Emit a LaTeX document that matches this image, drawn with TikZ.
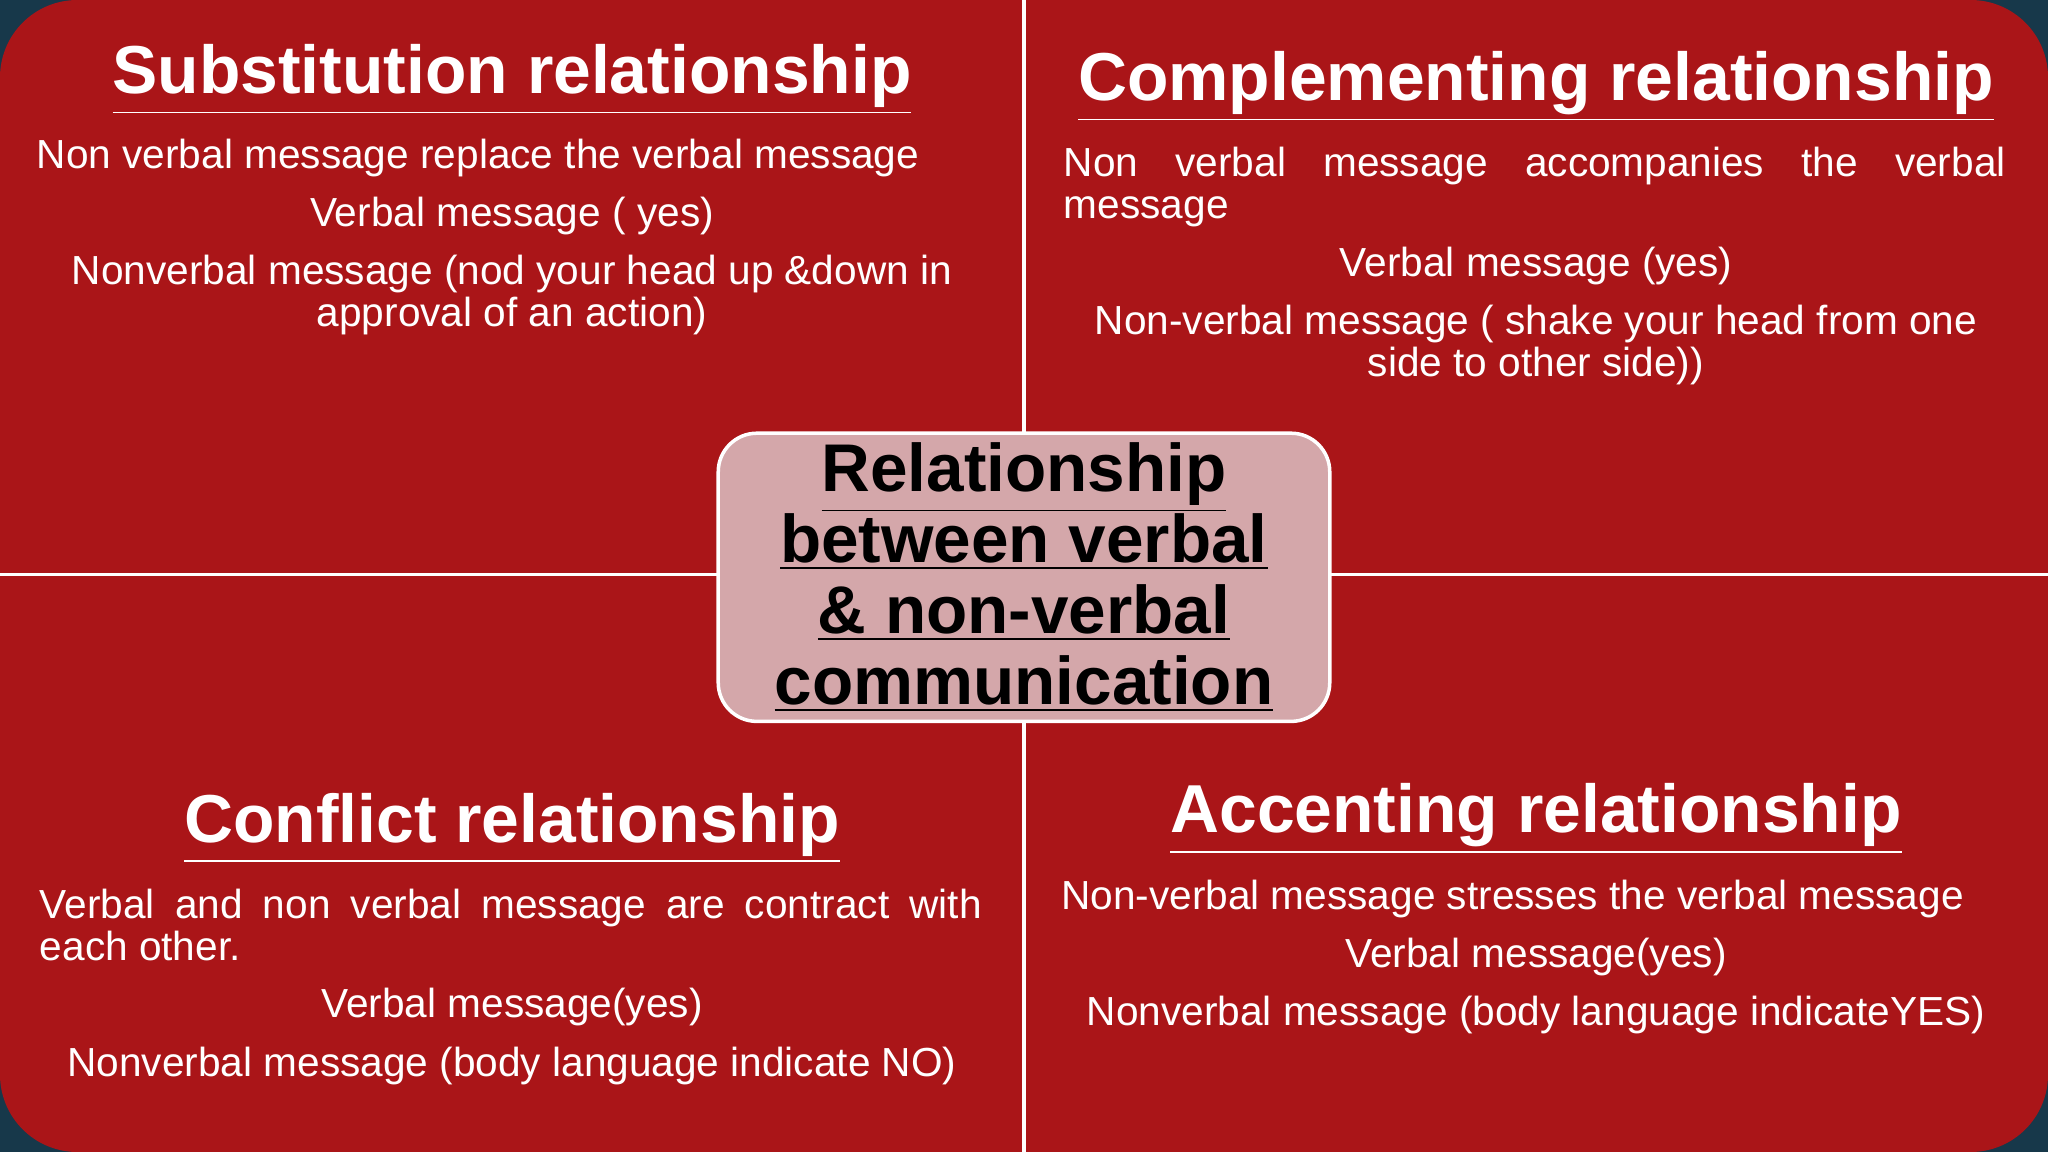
\documentclass[tikz,border=0pt]{standalone}
\usepackage{fontspec}
\setmainfont{Liberation Sans}
\hyphenpenalty=10000
\exhyphenpenalty=10000
\newcommand{\myul}[1]{\underline{#1}}
\tikzset{x=0.0130612cm,y=-0.0130612cm,
 ttl/.style={text=white,font=\bfseries\fontsize{19.3}{22}\selectfont,inner sep=0pt},
 body/.style={text=white,font=\fontsize{11.55}{11.9}\selectfont,align=center,inner sep=0pt},
 jbody/.style={text=white,font=\fontsize{11.55}{11.9}\selectfont,align=justify,text width=268pt,inner sep=0pt}}
\definecolor{bg}{HTML}{17384A}
\definecolor{panel}{HTML}{AA1518}
\definecolor{cbox}{HTML}{D4A7AA}
\begin{document}
\begin{tikzpicture}
\fill[bg] (0,0) rectangle (1568,882);
\useasboundingbox (0,0) rectangle (1568,882);
\fill[panel,rounded corners=22pt] (0,0) rectangle (1568,882);
\draw[white,line width=1pt] (784,0) -- (784,882) (0,440) -- (1568,440);
\node[draw=white,line width=1pt,fill=cbox,rounded corners=11pt,minimum width=174pt,minimum height=82pt,align=center,inner sep=0pt,
 font=\bfseries\fontsize{19.2}{20.2}\selectfont] (c) at (784,442)
 {\myul{Relationship}\\\myul{between verbal}\\\myul{\& non-verbal}\\\myul{communication}};
% top-left
\node[ttl] (t1) at (392,61) {\myul{Substitution relationship}};
\node[body,anchor=north] (b1a) at (366,106) {Non verbal message replace the verbal message};
\node[body,anchor=north] (b1b) at (392,150) {Verbal message ( yes)};
\node[body,anchor=north] (b1c) at (392,195) {Nonverbal message (nod your head up \&down in\\approval of an action)};
% top-right
\node[ttl] (t2) at (1176,66) {\myul{Complementing relationship}};
\node[jbody,anchor=north west] (b2a) at (814,112) {Non verbal message accompanies the verbal message};
\node[body,anchor=north] (b2b) at (1176,189) {Verbal message (yes)};
\node[body,anchor=north] (b2c) at (1176,233) {Non-verbal message ( shake your head from one\\side to other side))};
% bottom-left
\node[ttl] (t3) at (392,634) {\myul{Conflict relationship}};
\node[jbody,anchor=north west] (b3a) at (30,680) {Verbal and non verbal message are contract with each other.};
\node[body,anchor=north] (b3b) at (392,756) {Verbal message(yes)};
\node[body,anchor=north] (b3c) at (392,801) {Nonverbal message (body language indicate NO)};
% bottom-right
\node[ttl] (t4) at (1176,627) {\myul{Accenting relationship}};
\node[body,anchor=north] (b4a) at (1158,673) {Non-verbal message stresses the verbal message};
\node[body,anchor=north] (b4b) at (1176,718) {Verbal message(yes)};
\node[body,anchor=north] (b4c) at (1176,762) {Nonverbal message (body language indicateYES)};
\end{tikzpicture}
\end{document}
